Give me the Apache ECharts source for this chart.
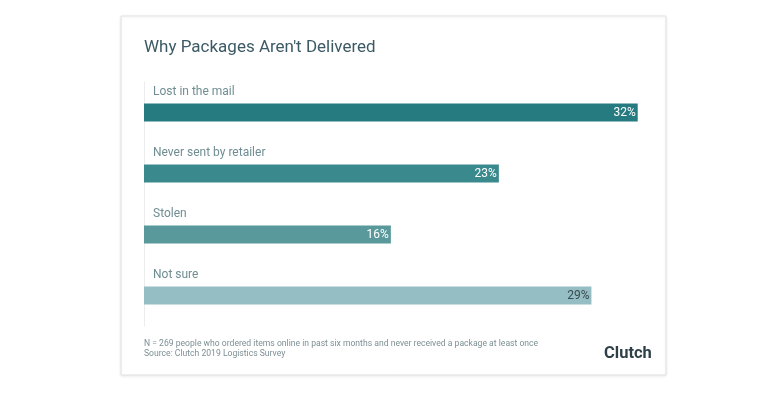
<!DOCTYPE html>
<html><head><meta charset="utf-8">
<script src="https://cdn.jsdelivr.net/npm/echarts@6/dist/echarts.min.js"></script>
<style>html,body{margin:0;padding:0;background:#fff}#c{width:768px;height:399px}</style>
</head><body><div id="c"></div>
<script>
const categories = ["Lost in the mail", "Never sent by retailer", "Stolen", "Not sure"];
const values = [32, 23, 16, 29];
const barColors = ["#267b80", "#3a898d", "#59999c", "#94bec3"];
const labelColors = ["#ffffff", "#ffffff", "#ffffff", "#3a4a50"];
const title = "Why Packages Aren't Delivered";
const note1 = "N = 269 people who ordered items online in past six months and never received a package at least once";
const note2 = "Source: Clutch 2019 Logistics Survey";

const chart = echarts.init(document.getElementById('c'));
chart.setOption({
  animation: false,
  backgroundColor: '#ffffff',
  graphic: [
    {type:'rect', shape:{x:121,y:16,width:545,height:359}, style:{fill:'#fff', stroke:'#e2e2e2', lineWidth:1, shadowBlur:3, shadowColor:'rgba(0,0,0,0.08)', shadowOffsetY:1}, z:-10},
    {type:'text', left:144, top:39, style:{text:title, font:'17px Roboto, "Open Sans", sans-serif', fill:'#3c5a66'}},
    {type:'text', left:144, top:339, style:{text:note1, font:'8.6px Roboto, sans-serif', fill:'#7d8f94'}},
    {type:'text', left:144, top:349, style:{text:note2, font:'8.6px Roboto, sans-serif', fill:'#7d8f94'}},
    {type:'text', left:604, top:345, style:{text:'Clutch', font:'bold 16.5px Roboto, "Open Sans", sans-serif', fill:'#2e3f48'}}
  ],
  grid: {left:144, top:82, width:540, height:244, containLabel:false},
  xAxis: {type:'value', min:0, max:35, show:false},
  yAxis: {type:'category', data:categories, inverse:true,
    axisLine:{show:true, lineStyle:{color:'#ececec'}}, axisTick:{show:false}, axisLabel:{show:false}},
  series: [
    {type:'bar', barWidth:18,
      data: values.map((v,i)=>({value:v, itemStyle:{color:barColors[i]}, label:{color:labelColors[i]}})),
      label:{show:true, position:'insideRight', offset:[3,0], formatter:'{c}%', fontSize:12, fontFamily:'Roboto, sans-serif'},
      z:3},
    {type:'bar', barWidth:18, barGap:'-100%', data: values, itemStyle:{color:'transparent'},
      label:{show:true, position:[9,-18], formatter:'{b}', fontSize:12, color:'#6f8d92', fontFamily:'Roboto, sans-serif'},
      silent:true, z:2}
  ]
});
</script></body></html>
